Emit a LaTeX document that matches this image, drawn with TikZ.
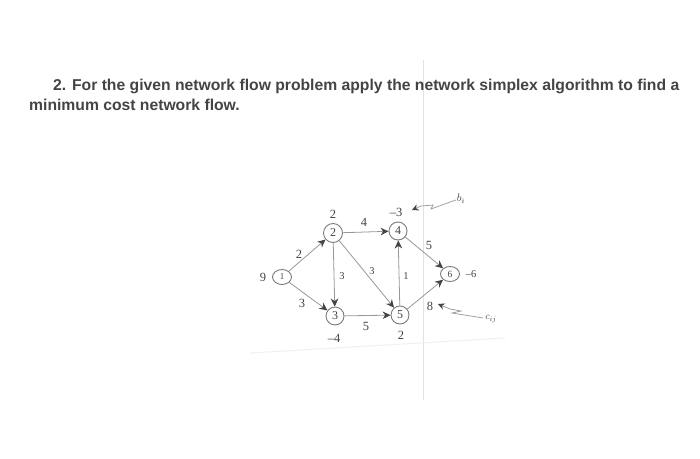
\documentclass[tikz,border=0pt]{standalone}
\usepackage{fontspec}
\setmainfont{Liberation Serif}
\newfontfamily\headfont{Liberation Sans}
\usetikzlibrary{arrows.meta,shapes.geometric}
\definecolor{ink}{HTML}{444444}
\definecolor{headink}{HTML}{444444}
\definecolor{fold}{HTML}{E2E2E2}
\definecolor{faint}{HTML}{F0F0F0}
\tikzset{
  vertex/.style={draw=ink!70,line width=.9pt,circle,inner sep=0pt,minimum size=15pt,text=ink,font=\fontsize{12}{12}\selectfont},
  flow/.style={draw=ink!55,line width=.8pt,-{Stealth[length=8pt,width=7.5pt,color=ink]}},
  val/.style={text=ink,inner sep=0pt,font=\fontsize{12.5}{13}\selectfont},
  small/.style={text=ink,inner sep=0pt,font=\fontsize{10.5}{11}\selectfont},
  head/.style={text=headink,inner sep=0pt,anchor=base west,font=\headfont\bfseries\fontsize{15.7}{18}\selectfont},
  squig/.style={draw=ink!55,line width=.7pt,-{Stealth[length=6.5pt,width=6.5pt,color=ink]}}
}
\begin{document}
\begin{tikzpicture}[x=1pt,y=-1pt]
\useasboundingbox (0,0) rectangle (700,458);
\fill[white] (0,0) rectangle (700,458);
\coordinate (foldtop) at (423,60);
\coordinate (foldbot) at (423,400);
\coordinate (hl) at (250,353);
\coordinate (hr) at (505,338);
\draw[fold,line width=.8pt] (foldtop) -- (foldbot);
\draw[faint,line width=1pt] (hl) -- (hr);
\node[head] (t1) at (53,90) {2. For the given network flow problem apply the network simplex algorithm to find a};
\node[head] (t2) at (29,110) {minimum cost network flow.};
\node[draw=ink!70,line width=.9pt,ellipse,inner sep=0pt,minimum width=19pt,minimum height=15pt,text=ink,font=\fontsize{9}{9}\selectfont] (n1) at (282,277) {1};
\node[vertex,minimum size=19pt] (n2) at (333,233) {2};
\node[vertex,minimum size=18pt] (n3) at (335,316) {3};
\node[vertex,minimum size=18pt] (n4) at (398,231) {4};
\node[vertex,minimum size=18pt] (n5) at (400,315) {5};
\node[draw=ink!70,line width=.9pt,ellipse,inner sep=0pt,minimum width=19pt,minimum height=15pt,text=ink,font=\fontsize{9.5}{10}\selectfont] (n6) at (450,274) {6};
\draw[flow] (n1) -- (n2);
\draw[flow] (n1) -- (n3);
\draw[flow] (n2) -- (n3);
\draw[flow] (n2) -- (n4);
\draw[flow] (n2) -- (n5);
\draw[flow] (n3) -- (n5);
\draw[flow] (n5) -- (n4);
\draw[flow] (n4) -- (n6);
\draw[flow] (n5) -- (n6);
\node[val] (l9) at (263,277) {9};
\node[val] (l2a) at (333,214) {2};
\node[val] (lm3) at (396,212) {–3};
\node[val] (l2b) at (401,335) {2};
\node[val] (lm4) at (334,338) {–4};
\node[small] (lm6) at (471,274) {–6};
\node[val] (c12) at (299,254) {2};
\node[val] (c13) at (302,303) {3};
\node[small] (c23) at (342,276) {3};
\node[val] (c24) at (364,222) {4};
\node[small] (c25) at (372,271) {3};
\node[val] (c35) at (366,326) {5};
\node[small] (c54) at (406,276) {1};
\node[val] (c46) at (429,245) {5};
\node[val] (c56) at (430,306) {8};
\node[small,font=\fontsize{11}{11}\selectfont] (bi) at (461,199) {$b_i$};
\node[small,font=\fontsize{10}{10}\selectfont] (cij) at (491,319) {$c_{ij}$};
\coordinate (b1) at (431,209);
\coordinate (b2) at (433,205);
\coordinate (b3) at (421,206);
\draw[squig] (bi.west) ++(-1,1) -- (b1) -- (b2) -- (b3) -- (412,210);
\coordinate (c8) at (438,304);
\coordinate (c1) at (452,313);
\coordinate (c2) at (461,311);
\coordinate (c3) at (450,309);
\draw[squig] (cij.west) ++(-2,-1) -- (c1) -- (c2) -- (c3) -- (c8);
\end{tikzpicture}
\end{document}
